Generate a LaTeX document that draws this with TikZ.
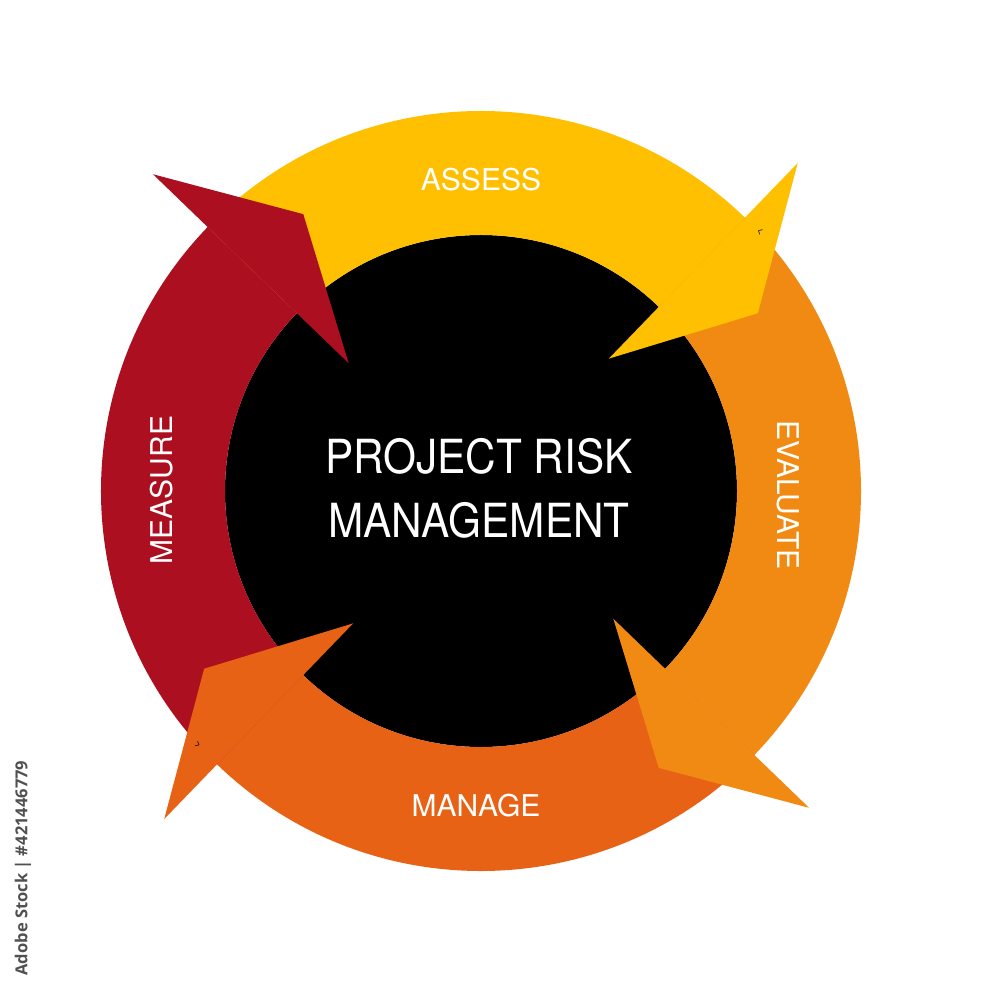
\documentclass[tikz,border=0pt]{standalone}
\usepackage{fontspec}
\setmainfont{TeX Gyre Heros}
\newfontfamily\centerfont[FakeStretch=0.9]{TeX Gyre Heros}
\newfontfamily\wmfont{Open Sans}
\definecolor{cyel}{RGB}{254,192,0}
\definecolor{cevo}{RGB}{240,138,18}
\definecolor{cmng}{RGB}{232,98,22}
\definecolor{cred}{RGB}{172,16,32}
\definecolor{cwm}{RGB}{80,80,80}
\tikzset{
  lab/.style={text=white,inner sep=0pt,font=\fontsize{30}{30}\selectfont},
  tick/.style={text=black,inner sep=0pt,font=\fontsize{10}{10}\selectfont}
}
% band: #1 colour, #2 start angle, #3 end angle
\newcommand\myband[3]{%
  \fill[#1] (#2:380pt) arc[start angle=#2,end angle=#3,radius=380pt]
    -- (#3:256pt) arc[start angle=#3,end angle=#2,radius=256pt] -- cycle;}
% head: #1 colour, #2 base angle, #3 tip angle
\newcommand\myhead[3]{%
  \fill[#1] (#2:456pt) -- (#3:329pt) -- (#2:184pt) -- cycle;}
\begin{document}
\begin{tikzpicture}[x=1pt,y=1pt]
\useasboundingbox (-481,-507) rectangle (519,491);
\fill[white] (-481,-507) rectangle (519,491);
\fill[black] (0,0) circle[radius=256pt];
\myband{cyel}{136}{46}
\myband{cevo}{46}{-44}
\myband{cmng}{-44}{-134}
\myband{cred}{-134}{-224}
\myhead{cyel}{46}{32.7}
\myhead{cevo}{-44}{-57.3}
\myhead{cmng}{-134}{-147.3}
\myhead{cred}{136}{122.7}
\node[lab] (assess) at (0,311) {ASSESS};
\node[lab] (evaluate) at (307,-4) [rotate=-90] {EVALUATE};
\node[lab] (manage) at (-5,-315) {MANAGE};
\node[lab] (measure) at (-319,1) [rotate=90] {MEASURE};
\node[text=white,inner sep=0pt,align=center,font=\centerfont\fontsize{47}{64}\selectfont] (title) at (-2,2.5) {PROJECT RISK\\MANAGEMENT};
\node[tick,rotate=-30] (t1) at (279,259) {<};
\node[tick,rotate=-30] (t2) at (-283,-254) {>};
\node[text=cwm,inner sep=0pt,rotate=90,font=\wmfont\bfseries\fontsize{16.5}{16.5}\selectfont] (wm) at (-458,-377) {Adobe Stock | \#421446779};
\end{tikzpicture}
\end{document}
